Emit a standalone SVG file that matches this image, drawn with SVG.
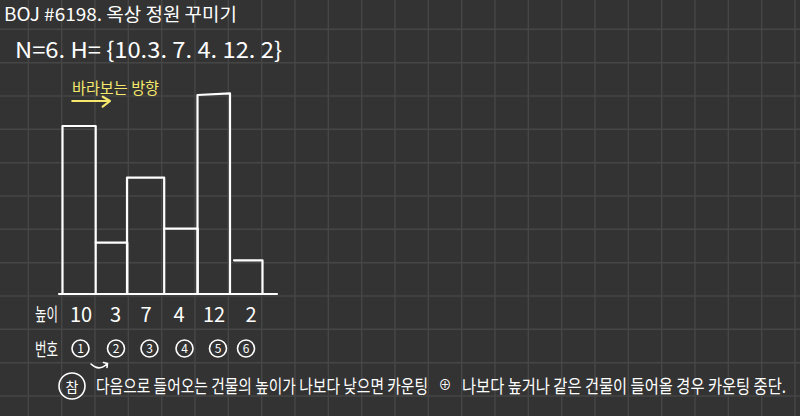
<svg xmlns="http://www.w3.org/2000/svg" width="800" height="416" viewBox="0 0 800 416">
<style>
  .grid { stroke: #464646; stroke-width: 1.4; fill: none; }
  .pen { stroke: #ffffff; stroke-width: 2.2; fill: none; stroke-linecap: round; stroke-linejoin: round; }
  .pen-thin { stroke: #ffffff; stroke-width: 1.6; fill: none; stroke-linecap: round; stroke-linejoin: round; }
  .ylw { stroke: #f5e86c; stroke-width: 2.2; fill: none; stroke-linecap: round; stroke-linejoin: round; }
  text { font-family: "Noto Sans CJK KR", "Noto Sans", sans-serif; fill: #ffffff; }
  .num { text-anchor: middle; font-size: 20px; }
  .cnum { text-anchor: middle; font-size: 12px; }
  .yt { fill: #f5e86c; }
</style>
<rect width="800" height="416" fill="#333333"/>
<g id="grid">
  <path class="grid" d="M28.3,0V416M61.7,0V416M95,0V416M128.3,0V416M161.7,0V416M195,0V416M228.3,0V416M261.7,0V416M295,0V416M328.3,0V416M361.7,0V416M395,0V416M428.3,0V416M461.7,0V416M495,0V416M528.3,0V416M561.7,0V416M595,0V416M628.3,0V416M661.7,0V416M695,0V416M728.3,0V416M761.7,0V416M795,0V416"/>
  <path class="grid" d="M0,29.3H800M0,62.7H800M0,96H800M0,129.3H800M0,162.7H800M0,196H800M0,229.3H800M0,262.7H800M0,296H800M0,329.3H800M0,362.7H800M0,396H800"/>
</g>
<g id="title">
  <text x="4" y="21" font-size="18" textLength="233" lengthAdjust="spacingAndGlyphs">BOJ #6198. 옥상 정원 꾸미기</text>
  <text x="15" y="58" font-size="22" textLength="267" lengthAdjust="spacingAndGlyphs">N=6. H= {10.3. 7. 4. 12. 2}</text>
</g>
<g id="direction">
  <text class="yt" x="72" y="94" font-size="16" textLength="87" lengthAdjust="spacingAndGlyphs">바라보는 방향</text>
  <path class="ylw" d="M72.3,101H110M102.7,96.7L110,101L102.7,106.7"/>
</g>
<g id="bars">
  <path id="bar1" class="pen" d="M62.5,294V126H95.7V294"/>
  <path id="bar2" class="pen" d="M95.7,242.7H127.3V294"/>
  <path id="bar3" class="pen" d="M127,294V177.7H164.2V294"/>
  <path id="bar4" class="pen" d="M164.2,228.7H197.7V294"/>
  <path id="bar5" class="pen" d="M197.5,294V95L230,93.3V294"/>
  <path id="bar6" class="pen" d="M234,260.3H262.5V294"/>
  <path id="baseline" class="pen" d="M59,294H277"/>
</g>
<g id="heights">
  <text x="35" y="321" font-size="18" textLength="23" lengthAdjust="spacingAndGlyphs">높이</text>
  <text class="num" x="81" y="322">10</text>
  <text class="num" x="115.5" y="322">3</text>
  <text class="num" x="146" y="322">7</text>
  <text class="num" x="179" y="322">4</text>
  <text class="num" x="214" y="322">12</text>
  <text class="num" x="251" y="322">2</text>
</g>
<g id="numbers">
  <text x="35" y="356" font-size="18" textLength="23" lengthAdjust="spacingAndGlyphs">번호</text>
  <circle class="pen-thin" cx="80.5" cy="348.5" r="8.5"/><text class="cnum" x="80.5" y="352.8">1</text>
  <circle class="pen-thin" cx="116" cy="348.5" r="8.5"/><text class="cnum" x="116" y="352.8">2</text>
  <circle class="pen-thin" cx="149.5" cy="348.5" r="8.5"/><text class="cnum" x="149.5" y="352.8">3</text>
  <circle class="pen-thin" cx="184.5" cy="348.5" r="8.5"/><text class="cnum" x="184.5" y="352.8">4</text>
  <circle class="pen-thin" cx="218" cy="348.5" r="8.5"/><text class="cnum" x="218" y="352.8">5</text>
  <circle class="pen-thin" cx="246" cy="348.5" r="8.5"/><text class="cnum" x="246" y="352.8">6</text>
  <path class="pen-thin" d="M91,364Q99,372 107.5,363.5M103.5,362.5L107.5,363.5L107,367.5"/>
</g>
<g id="note">
  <circle class="pen-thin" cx="72" cy="386" r="13"/>
  <text x="72" y="391.5" font-size="14" text-anchor="middle">참</text>
  <text transform="translate(96,393) scale(1,1.25)" x="0" y="0" font-size="15" textLength="332" lengthAdjust="spacingAndGlyphs">다음으로 들어오는 건물의 높이가 나보다 낮으면 카운팅</text>
  <text x="445" y="388.5" font-size="13" text-anchor="middle">⊕</text>
  <text transform="translate(462,393) scale(1,1.25)" x="0" y="0" font-size="15" textLength="324" lengthAdjust="spacingAndGlyphs">나보다 높거나 같은 건물이 들어올 경우 카운팅 중단.</text>
</g>
</svg>
